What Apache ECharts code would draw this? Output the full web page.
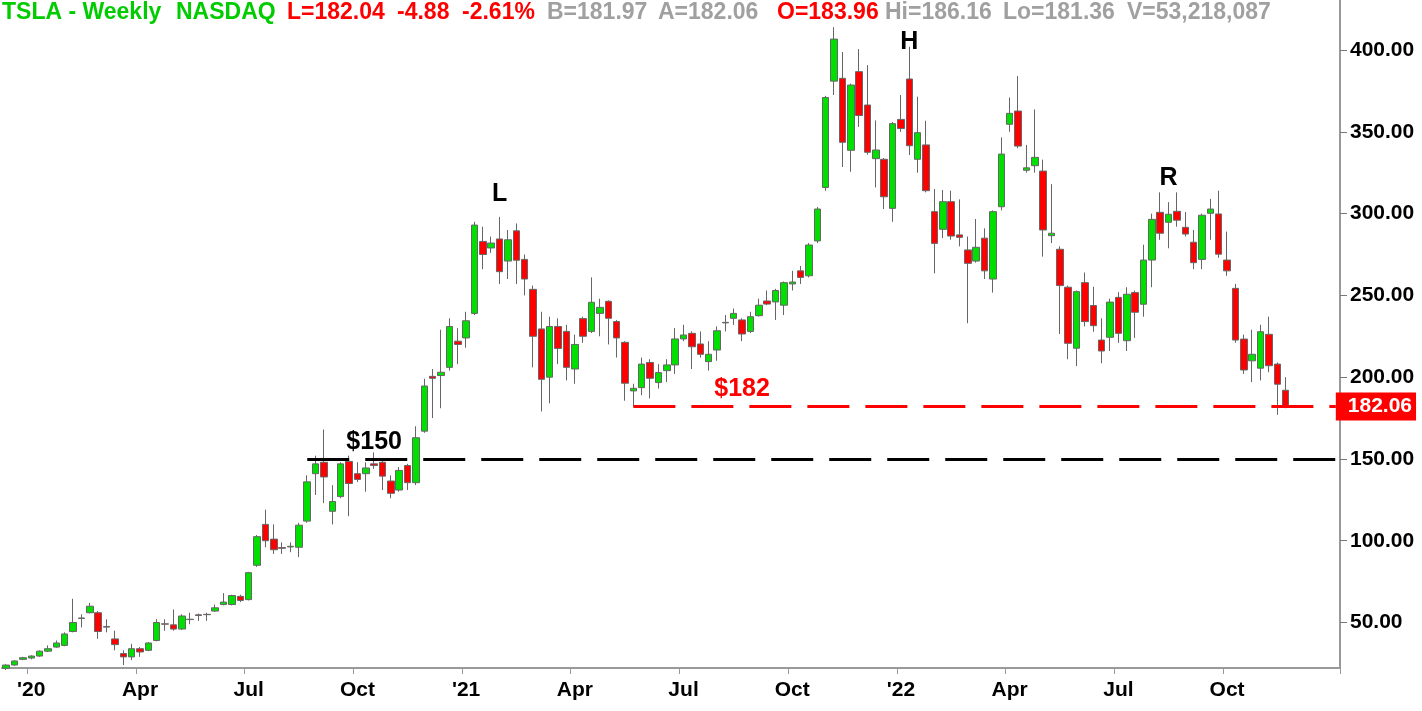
<!DOCTYPE html>
<html>
<head>
<meta charset="utf-8">
<title>TSLA Weekly</title>
<script src="https://cdn.jsdelivr.net/npm/echarts@6/dist/echarts.min.js"></script>
<style>
    html, body { margin: 0; padding: 0; background: #fff; }
    #chart { width: 1422px; height: 711px; }
</style>
</head>
<body>
<div id="chart"></div>
<script>
    // weekly candles, first week starts 2019-12-16
    var startDate = '2019-12-16';
    var opens = [22,24,27.5,28.3,29.5,32.5,35,36,44.5,52.5,56,56,47.5,40,31,29,34,33,39,49.2,48.6,46,51.8,54.7,54.8,57,61,61,66,64,85,110,101,95.8,96.2,96,112,141,148,118,127,148.5,141,141,147,148,136.5,131,146,135.5,167,200.5,201,206,222,224,239,283,279,284.5,271,289.5,272,253.7,229.5,200,231,228,205,235.8,228,239,246.4,234,221.3,191.6,193.6,209,196.7,204,207.5,223.4,226.8,220.3,209.5,216.6,233.5,236,235,228,237.6,246.6,246,244,257,265,262,283.3,316,381,382.7,338.7,386.8,366.4,333.6,333.2,303.2,357.6,382.3,333.2,342,301.2,290.4,307.3,287,277.8,271,285,260,304.2,354.6,362.7,326.5,329.3,326,286.5,278.2,255,217.7,257.8,243.8,222.7,224.4,248.8,222.3,251.7,244.6,271.6,300.8,294.7,301.4,291.6,282.5,272,300.2,299.8,271.6,254.3,223.3,210,205.5,226.2,208,192];
    var closes = [24,26.5,28.5,29.5,32.5,34,37.5,43,50,52.8,60,44.5,47.2,36.5,29,34,32,37.5,50,49,46,54,52,54.3,55,59,62.5,66.5,63.5,80.5,102.5,100,94.5,95.4,96.6,109.5,136,147,139,124,147,135,137.5,144.5,146,139.5,129,143,135.5,163,194.6,199.3,203,231,220,234.5,293,275,282,264.5,284,271.5,260,225,198.7,231,217.6,206,220,225,245.8,242.7,236,224,196.3,193.2,208,199.3,202.8,207.5,223.4,225.8,218.6,214,214,228.4,233.2,239,226.4,237,244,244.7,253,257.8,258.2,261,280.8,302.8,371,406.7,343.6,378.6,360,337.5,338.9,310.3,355,352,341.5,349.5,314,281.8,307.3,286.3,285.5,269.6,279.4,265,301.2,336.4,361.3,341.3,328,334.4,290,288,256,220.7,252.3,234,231.5,216,245.9,226.8,250.7,239.7,271.6,296.5,288,299.6,296,287.5,270,299,302.8,275.2,265,222.7,204.4,214,227.8,207,195.7,182];
    var lows = [21,23.5,27,27.5,29,32,34.5,35.5,44,47,55.5,40,44,33,24,27,29,32.5,38.5,45,45,45.5,49,51,51,56.5,60.5,60.5,62.5,63.5,84,96,92,92,93,90,111,128,123,110,126,115,136,130,144,131,126,130,131,134,166,175,181,204,208,218,238,266,276,257,260,257,250,206,179,184,208,198,196,221,227,225,220,212,185.6,182,189,187,193,197,202,222,205,212,204,210,228,232,222,227,237,244,235,238,253,257,261,282,314,372.5,328.5,325.6,353,336,316,302.8,295,350,335.8,325,313,263.5,285,284,280,233,270,260,251.7,302,350,340,325,325,273.7,282,226.4,211,206.8,231,227.8,208.5,216,221,216,224,237,255,284,278.8,292,286,266,266,284,273,262,221,202,197,198,203,177,181];
    var highs = [24.5,27,29,30,33,36,39,44,64.5,55,62,57,52,45,33,37,35,38,52,52,58,55,56,55.5,56,61,68,67,67,81,103.5,119,110,99,99,111,140,152,168,134,148,152,148,148,154,149,140,145,147,170,199,205,229,236,230,240,295,292,286,298,290,294,275,256,240,237,236,232,226,237,261,248,247,235,222,196,212,211,208,211,230,232,228,228,222,231,238,242,236,240,248,253,254,258.5,265,268,282,304,372,414,398.8,379.5,400.6,390.8,357,334,356,372.5,402,371.5,356.8,315,314.4,314,308.7,286,296.7,291,302,346.6,371,384.1,342,363.7,333,318,280,256,253,264,255.3,236,248,252,255,253,281,300,313,307,313,301,290,300,309,314,289,257,226,229,232,237,209,200];
    var padWeeks = 6;
    var yTicks = [50, 100, 150, 200, 250, 300, 350, 400];
    var supportLevel = 150;
    var lastPrice = 182.06;
    var quarterNames = {1: "'", 4: 'Apr', 7: 'Jul', 10: 'Oct'};

    function buildDates(){
        var d = new Date(startDate + 'T00:00:00Z');
        var out = [];
        for (var i = 0; i < opens.length + padWeeks; i++) {
            out.push(d.toISOString().slice(0, 10));
            d = new Date(d.getTime() + 7 * 86400000);
        }
        return out;
    }
    var dates = buildDates();
    var candles = opens.map(function(o, i){ return [o, closes[i], lows[i], highs[i]]; });

    function isQuarterStart(i, val){
        var m = +val.slice(5, 7), day = +val.slice(8, 10);
        return i < opens.length && quarterNames[m] !== undefined && day <= 7;
    }
    function quarterLabel(val){
        var m = +val.slice(5, 7);
        return m === 1 ? "'" + val.slice(2, 4) : quarterNames[m];
    }

    var bold = 'bold 23px "Liberation Sans", Arial, sans-serif';
    var gray = '#a0a0a0';
    var header = [
        ['TSLA - Weekly', 2, '#00cc00'], ['NASDAQ', 176, '#00cc00'],
        ['L=182.04', 287, '#ff0000'], ['-4.88', 397, '#ff0000'], ['-2.61%', 462, '#ff0000'],
        ['B=181.97', 547, gray], ['A=182.06', 658, gray], ['O=183.96', 777, '#ff0000'],
        ['Hi=186.16', 885, gray], ['Lo=181.36', 1003, gray], ['V=53,218,087', 1127, gray]
    ];

    var chart = echarts.init(document.getElementById('chart'));
    var option = {
        animation: false,
        backgroundColor: '#fff',
        grid: { left: 2, right: 82, top: 0, bottom: 43 },
        graphic: header.map(function(h){
            return { type: 'text', left: h[1], top: 1, style: { text: h[0], fill: h[2], font: bold } };
        }),
        xAxis: {
            type: 'category',
            data: dates,
            boundaryGap: true,
            axisLine: { lineStyle: { color: '#999', width: 2 } },
            axisTick: { show: true, interval: isQuarterStart, length: 6, lineStyle: { color: '#999' } },
            axisLabel: {
                interval: isQuarterStart,
                formatter: quarterLabel,
                color: '#000', fontSize: 21, fontWeight: 'bold',
                fontFamily: '"Liberation Sans", Arial, sans-serif', margin: 12
            },
            splitLine: { show: false }
        },
        yAxis: {
            type: 'value',
            position: 'right',
            min: 22.2,
            max: 430.6,
            axisLine: { show: true, lineStyle: { color: '#999', width: 2 } },
            axisTick: { show: true, customValues: yTicks, length: 7, lineStyle: { color: '#777' } },
            axisLabel: {
                customValues: yTicks,
                formatter: function(v){ return v.toFixed(2); },
                color: '#000', fontSize: 21, fontWeight: 'bold',
                fontFamily: '"Liberation Sans", Arial, sans-serif', margin: 10
            },
            splitLine: { show: false }
        },
        series: [{
            type: 'candlestick',
            data: candles,
            barWidth: 7,
            itemStyle: {
                color: '#00e000', color0: '#ff0000',
                borderColor: '#666', borderColor0: '#666', borderWidth: 1
            },
            markLine: {
                symbol: 'none',
                silent: true,
                data: [
                    [
                        { coord: [36, supportLevel], lineStyle: { color: '#000', width: 3, type: [42, 16] }, label: { show: false } },
                        { coord: [dates.length - 1, supportLevel] }
                    ],
                    [
                        { coord: [75, lastPrice], lineStyle: { color: '#ff0000', width: 3, type: [42, 16] },
                          label: {
                              show: true, position: 'end', distance: 0, formatter: lastPrice.toFixed(2),
                              color: '#fff', backgroundColor: '#ff0000', fontSize: 21, fontWeight: 'bold',
                              fontFamily: '"Liberation Sans", Arial, sans-serif', padding: [4, 4, 3, 12]
                          } },
                        { coord: [dates.length - 1, lastPrice] }
                    ]
                ]
            },
            markPoint: {
                symbol: 'circle',
                symbolSize: 0,
                silent: true,
                label: { show: true, fontSize: 25, fontWeight: 'bold', color: '#000',
                         fontFamily: '"Liberation Sans", Arial, sans-serif' },
                data: [
                    { coord: [59, 312], value: 'L', label: { formatter: 'L' } },
                    { coord: [108, 405], value: 'H', label: { formatter: 'H' } },
                    { coord: [139, 322], value: 'R', label: { formatter: 'R' } },
                    { coord: [44, 160], value: '$150', label: { formatter: '$150' } },
                    { coord: [88, 193], value: '$182', label: { formatter: '$182', color: '#ff0000' } }
                ]
            }
        }]
    };
    chart.setOption(option);
</script>
</body>
</html>
